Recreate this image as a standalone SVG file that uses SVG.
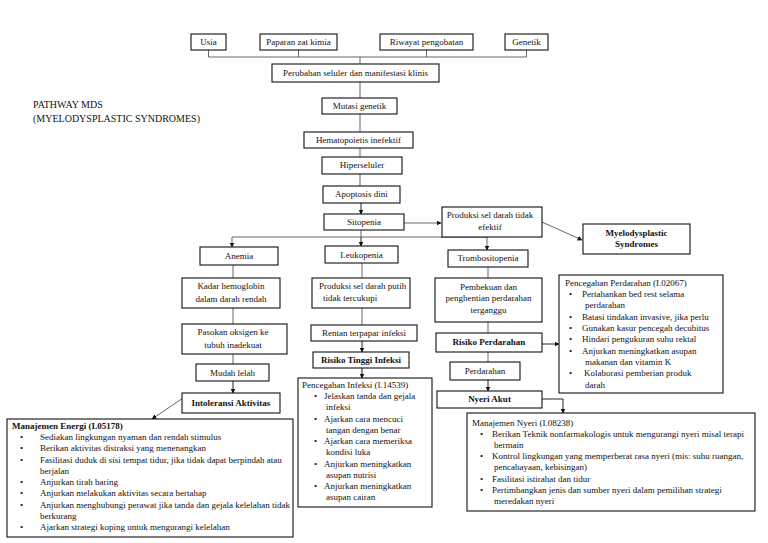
<svg xmlns="http://www.w3.org/2000/svg" width="768" height="543" viewBox="0 0 768 543">
<style>
text{font-family:"Liberation Serif","Times New Roman",serif;font-size:9px;fill:#111}
.c{text-anchor:middle}
.b{font-weight:bold}
.t{font-size:10px}
rect{fill:#fff;stroke:#111;stroke-width:1.1}
.ln{fill:none;stroke:#666;stroke-width:1}
.lk{fill:none;stroke:#222;stroke-width:1}
</style>
<defs>
<marker id="ah" viewBox="0 0 10 10" refX="9" refY="5" markerWidth="5" markerHeight="5" orient="auto" markerUnits="userSpaceOnUse">
<path d="M0,0 L10,5 L0,10 z" fill="#111"/>
</marker>
</defs>
<rect width="768" height="543" style="fill:#fff;stroke:none"/>
<text class="t" x="33" y="108">PATHWAY MDS</text>
<text class="t" x="33" y="122">(MYELODYSPLASTIC SYNDROMES)</text>

<g id="connectors">
<path class="ln" d="M208.5,50 V57 M298.5,50 V57 M426.5,50 V57 M526.5,50 V57 M208.5,57 H526.5 M360,57 V64"/>
<path class="ln" d="M360,82 V98 M360,114 V132 M360,148 V157 M360,174 V186"/>
<path class="lk" d="M361,203 V214" marker-end="url(#ah)"/>
<path class="ln" d="M404,223 H441" marker-end="url(#ah)"/>
<path class="ln" d="M542,222 L582,240" marker-end="url(#ah)"/>
<path class="ln" d="M361,230 V237 M232,237 H487"/>
<path class="lk" d="M361,237 V246" marker-end="url(#ah)"/>
<path class="ln" d="M232,237 V247" marker-end="url(#ah)"/>
<path class="ln" d="M487,237 V250" marker-end="url(#ah)"/>
<path class="ln" d="M233,265 V278 M233,308 V324 M233,354 V364"/>
<path class="lk" d="M233,381 V393" marker-end="url(#ah)"/>
<path class="ln" d="M183,398 L152,419" marker-end="url(#ah)"/>
<path class="ln" d="M362,263 V278 M362,308 V325"/>
<path class="lk" d="M362,341 V352" marker-end="url(#ah)"/>
<path class="lk" d="M362,368 V378" marker-end="url(#ah)"/>
<path class="ln" d="M488,267 V278 M488,322 V333 M488,352 V362"/>
<path class="lk" d="M488,380 V391" marker-end="url(#ah)"/>
<path class="lk" d="M542,344 H559" marker-end="url(#ah)"/>
<path class="lk" d="M542,399 H563 V413" marker-end="url(#ah)"/>
</g>

<g id="n-usia"><rect x="191" y="34" width="35" height="16"/><text class="c" x="208.5" y="45">Usia</text></g>
<g id="n-paparan"><rect x="260" y="34" width="77" height="16"/><text class="c" x="298.5" y="45">Paparan zat kimia</text></g>
<g id="n-riwayat"><rect x="380" y="34" width="93" height="16"/><text class="c" x="426.5" y="45">Riwayat pengobatan</text></g>
<g id="n-genetik"><rect x="505" y="34" width="43" height="16"/><text class="c" x="526.5" y="45">Genetik</text></g>
<g id="n-perubahan"><rect x="272" y="64" width="167" height="18"/><text class="c" x="355.5" y="76">Perubahan seluler dan manifestasi klinis</text></g>
<g id="n-mutasi"><rect x="322" y="98" width="75" height="16"/><text class="c" x="359.5" y="109">Mutasi genetik</text></g>
<g id="n-hemato"><rect x="304" y="132" width="109" height="16"/><text class="c" x="358.5" y="143">Hematopoietis inefektif</text></g>
<g id="n-hiper"><rect x="322" y="157" width="80" height="17"/><text class="c" x="362" y="168">Hiperseluler</text></g>
<g id="n-apoptosis"><rect x="323" y="186" width="77" height="17"/><text class="c" x="361.5" y="197">Apoptosis dini</text></g>
<g id="n-sitopenia"><rect x="324" y="214" width="80" height="16"/><text class="c" x="364" y="225">Sitopenia</text></g>
<g id="n-produksi"><rect x="442" y="207" width="100" height="30"/><text class="c" x="490" y="218">Produksi sel darah tidak</text><text class="c" x="490" y="230">efektif</text></g>
<g id="n-mds"><rect x="583" y="224" width="107" height="30"/><text class="c b" x="636.5" y="236">Myelodysplastic</text><text class="c b" x="636.5" y="247">Syndromes</text></g>

<g id="n-anemia"><rect x="200" y="247" width="78" height="18"/><text class="c" x="239" y="259">Anemia</text></g>
<g id="n-kadar"><rect x="182" y="278" width="98" height="30"/><text class="c" x="231" y="289">Kadar hemoglobin</text><text class="c" x="231" y="302">dalam darah rendah</text></g>
<g id="n-pasokan"><rect x="182" y="324" width="105" height="30"/><text class="c" x="233" y="335">Pasokan oksigen ke</text><text class="c" x="233" y="348">tubuh inadekuat</text></g>
<g id="n-mudah"><rect x="196" y="364" width="73" height="17"/><text class="c" x="232.5" y="375.5">Mudah lelah</text></g>
<g id="n-intoleransi"><rect x="182" y="393" width="98" height="20"/><text class="c b" x="231" y="406">Intoleransi Aktivitas</text></g>

<g id="n-leuko"><rect x="325" y="246" width="73" height="17"/><text class="c" x="361.5" y="257.5">Leukopenia</text></g>
<g id="n-putih"><rect x="312" y="278" width="98" height="30"/><text x="319" y="289">Produksi sel darah putih</text><text x="323" y="301">tidak tercukupi</text></g>
<g id="n-rentan"><rect x="311" y="325" width="106" height="16"/><text class="c" x="364" y="336">Rentan terpapar infeksi</text></g>
<g id="n-risikoinf"><rect x="313" y="352" width="96" height="16"/><text class="c b" x="361" y="363">Risiko Tinggi Infeksi</text></g>

<g id="n-trombo"><rect x="448" y="250" width="80" height="17"/><text class="c" x="488" y="261">Trombositopenia</text></g>
<g id="n-pembekuan"><rect x="435" y="278" width="107" height="44"/><text class="c" x="488.5" y="290">Pembekuan dan</text><text class="c" x="488.5" y="301">penghentian perdarahan</text><text class="c" x="488.5" y="313">terganggu</text></g>
<g id="n-risikoperd"><rect x="436" y="333" width="106" height="19"/><text class="c b" x="489" y="345">Risiko Perdarahan</text></g>
<g id="n-perdarahan"><rect x="450" y="362" width="70" height="18"/><text class="c" x="485" y="374">Perdarahan</text></g>
<g id="n-nyeri"><rect x="437" y="391" width="105" height="17"/><text class="c b" x="489.5" y="402">Nyeri Akut</text></g>

<g id="n-energi">
<rect x="7" y="419" width="286" height="118"/>
<text class="b" x="12" y="429">Manajemen Energi (I.05178)</text>
<text x="20" y="440">•</text><text x="40" y="440">Sediakan lingkungan nyaman dan rendah stimulus</text>
<text x="20" y="451">•</text><text x="40" y="451">Berikan aktivitas distraksi yang menenangkan</text>
<text x="20" y="463">•</text><text x="40" y="463">Fasilitasi duduk di sisi tempat tidur, jika tidak dapat berpindah atau</text>
<text x="40" y="474">berjalan</text>
<text x="20" y="485">•</text><text x="40" y="485">Anjurkan tirah baring</text>
<text x="20" y="496">•</text><text x="40" y="496">Anjurkan melakukan aktivitas secara bertahap</text>
<text x="20" y="508">•</text><text x="40" y="508">Anjurkan menghubungi perawat jika tanda dan gejala kelelahan tidak</text>
<text x="40" y="519">berkurang</text>
<text x="20" y="530">•</text><text x="40" y="530">Ajarkan strategi koping untuk mengurangi kelelahan</text>
</g>

<g id="n-infeksi">
<rect x="298" y="378" width="134" height="129"/>
<text x="302" y="388">Pencegahan Infeksi (I.14539)</text>
<text x="314" y="399">•</text><text x="324" y="399">Jelaskan tanda dan gejala</text>
<text x="326" y="410">infeksi</text>
<text x="314" y="422">•</text><text x="324" y="422">Ajarkan cara mencuci</text>
<text x="326" y="433">tangan dengan benar</text>
<text x="314" y="444">•</text><text x="324" y="444">Ajarkan cara memeriksa</text>
<text x="326" y="455">kondisi luka</text>
<text x="314" y="467">•</text><text x="324" y="467">Anjurkan meningkatkan</text>
<text x="326" y="478">asupan nutrisi</text>
<text x="314" y="489">•</text><text x="324" y="489">Anjurkan meningkatkan</text>
<text x="326" y="500">asupan cairan</text>
</g>

<g id="n-pencperd">
<rect x="559" y="275" width="164" height="118"/>
<text x="565" y="286">Pencegahan Perdarahan (I.02067)</text>
<text x="569" y="297">•</text><text x="582" y="297">Pertahankan bed rest selama</text>
<text x="585" y="308">perdarahan</text>
<text x="569" y="320">•</text><text x="582" y="320">Batasi tindakan invasive, jika perlu</text>
<text x="569" y="331">•</text><text x="582" y="331">Gunakan kasur pencegah decubitus</text>
<text x="569" y="342">•</text><text x="582" y="342">Hindari pengukuran suhu rektal</text>
<text x="569" y="354">•</text><text x="582" y="354">Anjurkan meningkatkan asupan</text>
<text x="585" y="365">makanan dan vitamin K</text>
<text x="569" y="376">•</text><text x="584" y="376">Kolaborasi pemberian produk</text>
<text x="585" y="388">darah</text>
</g>

<g id="n-nyerimgmt">
<rect x="467" y="413" width="288" height="98"/>
<text x="472" y="426">Manajemen Nyeri (I.08238)</text>
<text x="480" y="437">•</text><text x="492" y="437">Berikan Teknik nonfarmakologis untuk mengurangi nyeri misal terapi</text>
<text x="494" y="448">bermain</text>
<text x="480" y="459">•</text><text x="492" y="459">Kontrol lingkungan yang memperberat rasa nyeri (mis: suhu ruangan,</text>
<text x="494" y="470">pencahayaan, kebisingan)</text>
<text x="480" y="482">•</text><text x="492" y="482">Fasilitasi istirahat dan tidur</text>
<text x="480" y="493">•</text><text x="492" y="493">Pertimbangkan jenis dan sumber nyeri dalam pemilihan strategi</text>
<text x="494" y="504">meredakan nyeri</text>
</g>
</svg>
